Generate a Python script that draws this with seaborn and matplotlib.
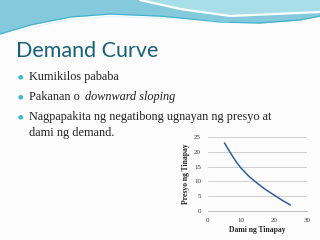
import matplotlib
matplotlib.use("Agg")
import matplotlib.pyplot as plt
import numpy as np
import pandas as pd
import seaborn as sns

# Data
quantity = [5, 6.25, 7.5, 8.75, 10, 12.5, 15, 17.5, 20, 22.5, 25]
price = [23, 20.6, 18.4, 16.3, 14.5, 11.6, 9.3, 7.2, 5.4, 3.6, 2]
x_ticks = [0, 10, 20, 30]
y_ticks = [0, 5, 10, 15, 20, 25]
title = "Demand Curve"
bullets = ["Kumikilos pababa", "Pakanan o ", "Nagpapakita ng negatibong ugnayan ng presyo at", "dami ng demand."]
italic_part = "downward sloping"
x_label = "Dami ng Tinapay"
y_label = "Presyo ng Tinapay"

sns.set_theme(style="white")
plt.rcParams['font.family'] = ['Liberation Serif', 'DejaVu Serif']

fig = plt.figure(figsize=(3.2, 2.4), dpi=100)
fig.patch.set_facecolor("#FCFCFC")

# background wave
bg = fig.add_axes([0, 0, 1, 1])
bg.set_xlim(0, 320); bg.set_ylim(240, 0); bg.axis("off")
xs = np.linspace(0, 320, 300)
bottom = np.interp(xs, [0, 30, 70, 110, 160, 220, 260, 300, 320], [34, 25, 17, 14, 16, 22, 23, 20, 16])
bg.fill_between(xs, 0, bottom, color="#84C9DC")
streak = np.interp(xs, [140, 180, 230, 320], [0, 9, 16, 12])
mask = xs >= 140
bg.fill_between(xs[mask], 0, streak[mask] - 1, color="#A8DEE8")
bg.plot(xs[mask], streak[mask], color="white", lw=1.6)
swoosh = np.interp(xs, [20, 60, 110, 160, 230], [31, 21, 16.5, 18, 22.5])
m2 = (xs >= 20) & (xs <= 230)
bg.plot(xs[m2], swoosh[m2], color="#E8F6F9", lw=1.0)
bg.plot(xs, bottom, color="#3FB3CC", lw=0.8)

fig.text(16 / 320, 1 - 51 / 240, title, fontsize=15.5, color="#17607A",
         family=["Lato", "DejaVu Sans"], va="center")

ys = [77, 97, 117]
for y in ys:
    fig.text(20 / 320, 1 - y / 240, "\u25CF", fontsize=4.5, color="#3DB6CF", va="center", ha="center",
             family=["DejaVu Sans"])
fs = 8.8
fig.text(29 / 320, 1 - 77 / 240, bullets[0], fontsize=fs, color="#222222", va="center")
t = fig.text(29 / 320, 1 - 97 / 240, bullets[1], fontsize=fs, color="#222222", va="center")
fig.canvas.draw()
bb = t.get_window_extent(renderer=fig.canvas.get_renderer())
fig.text(bb.x1 / fig.bbox.width + 2 / 320, 1 - 97 / 240, italic_part, fontsize=fs, color="#222222",
         va="center", style="italic")
fig.text(29 / 320, 1 - 117 / 240, bullets[2], fontsize=fs, color="#222222", va="center")
fig.text(29 / 320, 1 - 133 / 240, bullets[3], fontsize=fs, color="#222222", va="center")

ax = fig.add_axes([208 / 320, 1 - 211 / 240, 99 / 320, 74 / 240])
ax.set_facecolor("none")
df = pd.DataFrame({"q": quantity, "p": price})
sns.lineplot(data=df, x="q", y="p", ax=ax, color="#2F5F9A", lw=1.1)
ax.set_xlim(0, 30); ax.set_ylim(0, 25)
ax.set_xticks(x_ticks); ax.set_yticks(y_ticks)
ax.tick_params(labelsize=5, length=0, pad=5, colors="#333333")
ax.grid(axis="y", color="#CFCFCF", lw=0.7)
ax.grid(axis="x", visible=False)
for s in ["top", "right", "left"]:
    ax.spines[s].set_visible(False)
ax.spines["bottom"].set_color("#BBBBBB"); ax.spines["bottom"].set_linewidth(0.7)
ax.set_xlabel(x_label, fontsize=5.5, fontweight="bold", labelpad=2, color="#222222")
ax.set_ylabel(y_label, fontsize=5.5, fontweight="bold", labelpad=3, color="#222222")

fig.savefig("out.png", dpi=100, facecolor=fig.get_facecolor())
